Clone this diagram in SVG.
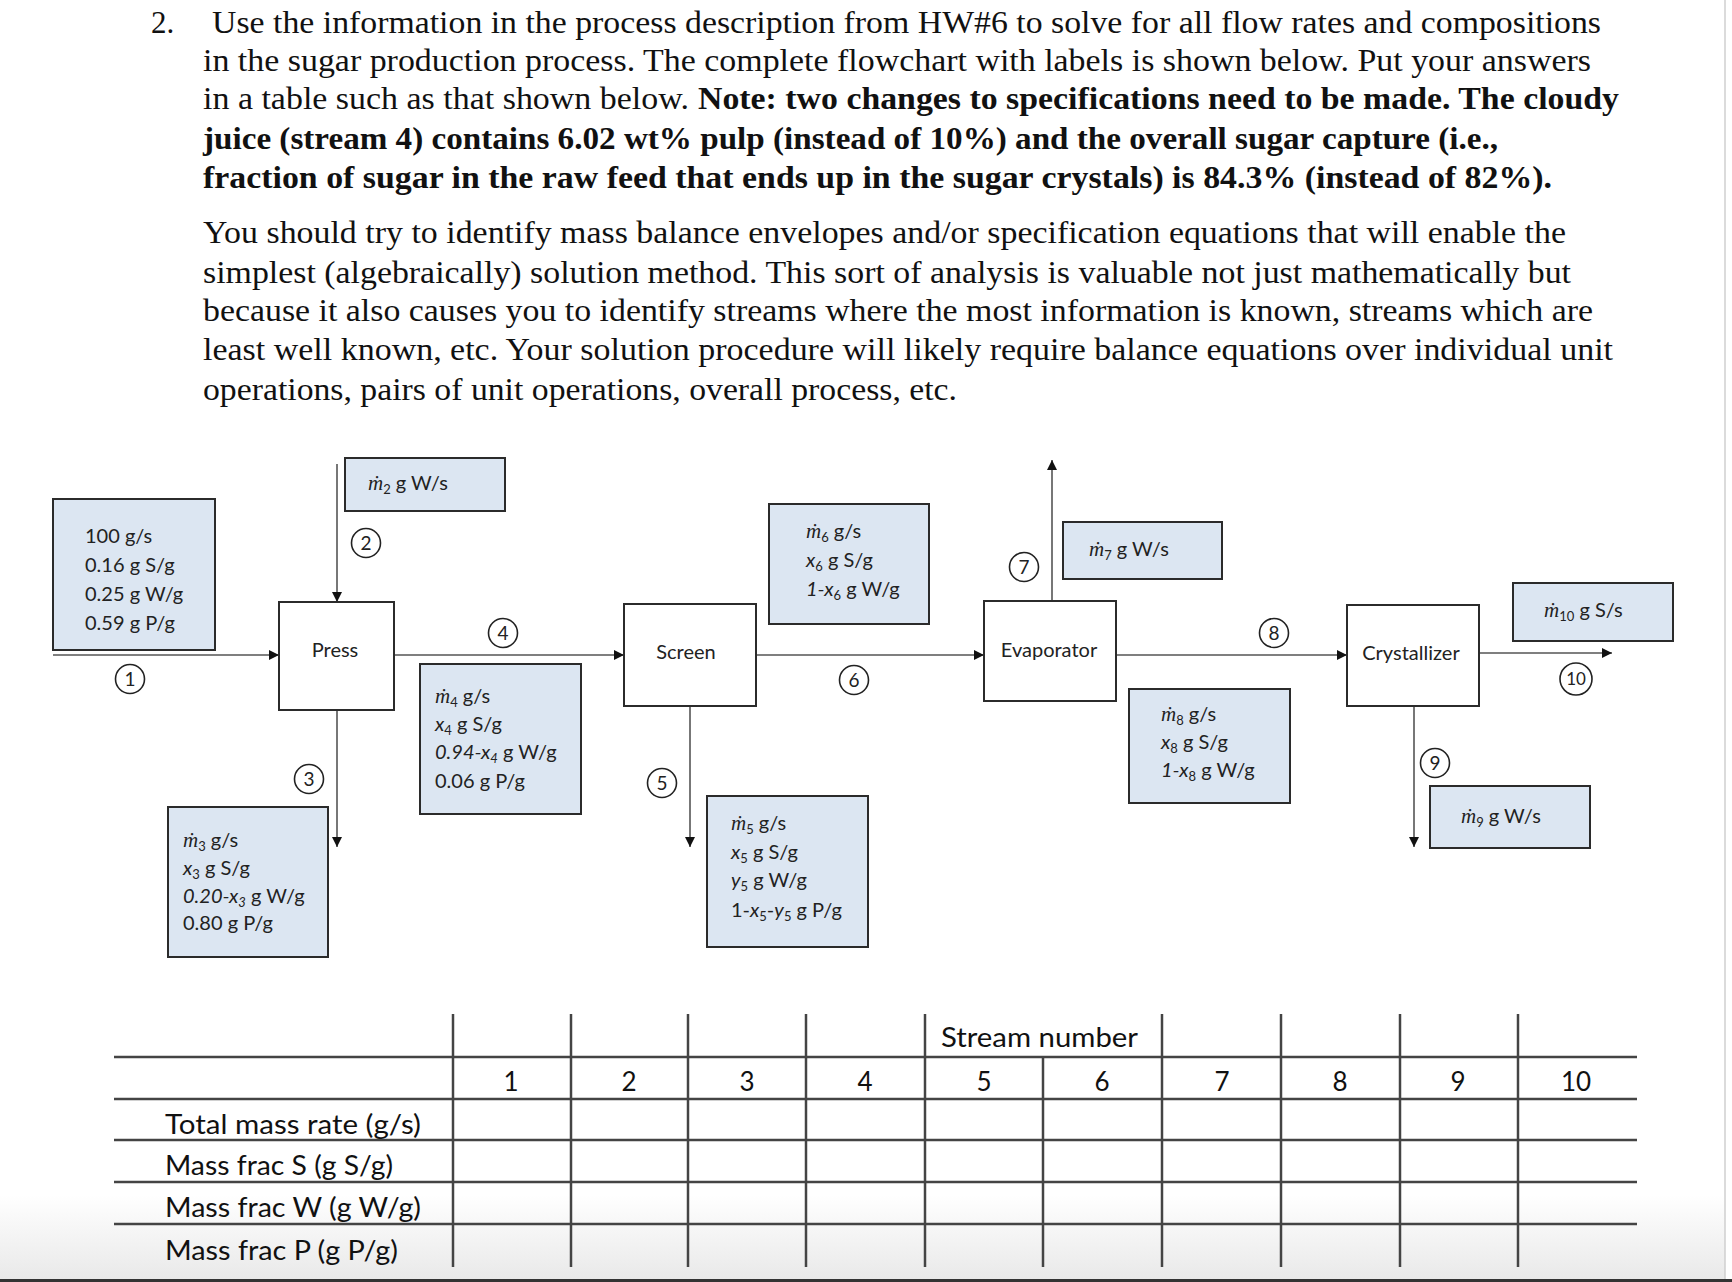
<svg xmlns="http://www.w3.org/2000/svg" width="1732" height="1282" viewBox="0 0 1732 1282">
<defs>
<marker id="ah" viewBox="0 0 10 10" refX="10" refY="5" markerWidth="10" markerHeight="10" markerUnits="userSpaceOnUse" orient="auto">
<path d="M0,0 L10,5 L0,10 z" fill="#111"/>
</marker>
<linearGradient id="bg" x1="0" y1="0" x2="0" y2="1">
<stop offset="0" stop-color="#ffffff"/>
<stop offset="1" stop-color="#e9e9e9"/>
</linearGradient>
<style>
.tx{font-family:"Liberation Serif",serif;font-size:31px;fill:#111}
.b{font-weight:bold}
.bx{fill:#dce6f2;stroke:#2b2b2b;stroke-width:2}
.unit{fill:#fff;stroke:#2b2b2b;stroke-width:2}
.lbl{font-family:Lato,"Liberation Sans",sans-serif;font-size:20px;fill:#222}
.m{font-family:"Liberation Serif",serif;font-style:italic;font-size:21px}
.sub{font-size:13px}
.it{font-style:italic}
.ctr{text-anchor:middle}
.conn{stroke:#555;stroke-width:1.6;fill:none}
.circ{fill:#fff;stroke:#222;stroke-width:1.6}
.num{font-family:Lato,"Liberation Sans",sans-serif;font-size:19px;fill:#222;text-anchor:middle}
.tl{stroke:#444;stroke-width:2.5}
.tt{font-family:Lato,"Liberation Sans",sans-serif;font-size:26px;fill:#111}
</style>
</defs>
<rect x="0" y="0" width="1732" height="1282" fill="#fff"/>
<rect x="0" y="1195" width="1725" height="84" fill="url(#bg)"/>
<line x1="1725" y1="0" x2="1725" y2="1279" stroke="#cfcfcf" stroke-width="1.5"/>
<rect x="0" y="1279" width="1732" height="3" fill="#333"/>

<g id="question">
<text class="tx" x="151" y="33">2.</text>
<text class="tx" x="212" y="33" textLength="1389" lengthAdjust="spacingAndGlyphs">Use the information in the process description from HW#6 to solve for all flow rates and compositions</text>
<text class="tx" x="203" y="71" textLength="1388" lengthAdjust="spacingAndGlyphs">in the sugar production process. The complete flowchart with labels is shown below. Put your answers</text>
<text class="tx" x="203" y="109" textLength="486" lengthAdjust="spacingAndGlyphs">in a table such as that shown below.</text>
<text class="tx b" x="698" y="109" textLength="921" lengthAdjust="spacingAndGlyphs">Note: two changes to specifications need to be made. The cloudy</text>
<text class="tx b" x="203" y="149" textLength="1295" lengthAdjust="spacingAndGlyphs">juice (stream 4) contains 6.02 wt% pulp (instead of 10%) and the overall sugar capture (i.e.,</text>
<text class="tx b" x="203" y="188" textLength="1349" lengthAdjust="spacingAndGlyphs">fraction of sugar in the raw feed that ends up in the sugar crystals) is 84.3% (instead of 82%).</text>
<text class="tx" x="203" y="243" textLength="1363" lengthAdjust="spacingAndGlyphs">You should try to identify mass balance envelopes and/or specification equations that will enable the</text>
<text class="tx" x="203" y="283" textLength="1368" lengthAdjust="spacingAndGlyphs">simplest (algebraically) solution method. This sort of analysis is valuable not just mathematically but</text>
<text class="tx" x="203" y="321" textLength="1390" lengthAdjust="spacingAndGlyphs">because it also causes you to identify streams where the most information is known, streams which are</text>
<text class="tx" x="203" y="360" textLength="1410" lengthAdjust="spacingAndGlyphs">least well known, etc. Your solution procedure will likely require balance equations over individual unit</text>
<text class="tx" x="203" y="400" textLength="754" lengthAdjust="spacingAndGlyphs">operations, pairs of unit operations, overall process, etc.</text>
</g>

<g id="connectors">
<line class="conn" x1="53" y1="655" x2="279" y2="655" marker-end="url(#ah)"/>
<line class="conn" x1="337" y1="464" x2="337" y2="602" marker-end="url(#ah)"/>
<line class="conn" x1="337" y1="710" x2="337" y2="847" marker-end="url(#ah)"/>
<line class="conn" x1="394" y1="655" x2="624" y2="655" marker-end="url(#ah)"/>
<line class="conn" x1="690" y1="706" x2="690" y2="847" marker-end="url(#ah)"/>
<line class="conn" x1="756" y1="655" x2="984" y2="655" marker-end="url(#ah)"/>
<line class="conn" x1="1052" y1="601" x2="1052" y2="460" marker-end="url(#ah)"/>
<line class="conn" x1="1116" y1="655" x2="1347" y2="655" marker-end="url(#ah)"/>
<line class="conn" x1="1414" y1="706" x2="1414" y2="847" marker-end="url(#ah)"/>
<line class="conn" x1="1479" y1="653" x2="1612" y2="653" marker-end="url(#ah)"/>
</g>

<g id="stream-labels">
<circle class="circ" cx="130" cy="679" r="14.5"/><text class="num" x="130" y="686">1</text>
<circle class="circ" cx="366" cy="543" r="14.5"/><text class="num" x="366" y="550">2</text>
<circle class="circ" cx="309" cy="779" r="14.5"/><text class="num" x="309" y="786">3</text>
<circle class="circ" cx="503" cy="633" r="14.5"/><text class="num" x="503" y="640">4</text>
<circle class="circ" cx="662" cy="783" r="14.5"/><text class="num" x="662" y="790">5</text>
<circle class="circ" cx="854" cy="680" r="14.5"/><text class="num" x="854" y="687">6</text>
<circle class="circ" cx="1024" cy="567" r="14.5"/><text class="num" x="1024" y="574">7</text>
<circle class="circ" cx="1274" cy="633" r="14.5"/><text class="num" x="1274" y="640">8</text>
<circle class="circ" cx="1435" cy="763" r="14.5"/><text class="num" x="1435" y="770">9</text>
<circle class="circ" cx="1576" cy="679" r="16"/><text class="num" x="1576" y="685" style="font-size:17px">10</text>
</g>

<g id="press"><rect class="unit" x="279" y="602" width="115" height="108"/><text class="lbl ctr" x="335" y="657">Press</text></g>
<g id="screen"><rect class="unit" x="624" y="604" width="132" height="102"/><text class="lbl ctr" x="686" y="659">Screen</text></g>
<g id="evaporator"><rect class="unit" x="984" y="601" width="132" height="100"/><text class="lbl ctr" x="1049" y="657">Evaporator</text></g>
<g id="crystallizer"><rect class="unit" x="1347" y="605" width="132" height="101"/><text class="lbl ctr" x="1411" y="660">Crystallizer</text></g>

<g id="box1"><rect class="bx" x="53" y="499" width="162" height="151"/>
<text class="lbl" x="85" y="543">100 g/s</text>
<text class="lbl" x="85" y="572">0.16 g S/g</text>
<text class="lbl" x="85" y="601">0.25 g W/g</text>
<text class="lbl" x="85" y="630">0.59 g P/g</text>
</g>
<g id="box2"><rect class="bx" x="345" y="458" width="160" height="53"/>
<text class="lbl" x="368" y="490"><tspan class="m">ṁ</tspan><tspan class="sub" dy="4">2</tspan><tspan dy="-4"> g W/s</tspan></text>
</g>
<g id="box3"><rect class="bx" x="168" y="807" width="160" height="150"/>
<text class="lbl" x="183" y="847"><tspan class="m">ṁ</tspan><tspan class="sub" dy="4">3</tspan><tspan dy="-4"> g/s</tspan></text>
<text class="lbl" x="183" y="875"><tspan class="it">x</tspan><tspan class="sub" dy="4">3</tspan><tspan dy="-4"> g S/g</tspan></text>
<text class="lbl" x="183" y="903"><tspan class="it">0.20-x</tspan><tspan class="sub it" dy="4">3</tspan><tspan dy="-4"> g W/g</tspan></text>
<text class="lbl" x="183" y="930">0.80 g P/g</text>
</g>
<g id="box4"><rect class="bx" x="420" y="664" width="161" height="150"/>
<text class="lbl" x="435" y="703"><tspan class="m">ṁ</tspan><tspan class="sub" dy="4">4</tspan><tspan dy="-4"> g/s</tspan></text>
<text class="lbl" x="435" y="731"><tspan class="it">x</tspan><tspan class="sub" dy="4">4</tspan><tspan dy="-4"> g S/g</tspan></text>
<text class="lbl" x="435" y="759"><tspan class="it">0.94-x</tspan><tspan class="sub it" dy="4">4</tspan><tspan dy="-4"> g W/g</tspan></text>
<text class="lbl" x="435" y="788">0.06 g P/g</text>
</g>
<g id="box5"><rect class="bx" x="707" y="796" width="161" height="151"/>
<text class="lbl" x="731" y="830"><tspan class="m">ṁ</tspan><tspan class="sub" dy="4">5</tspan><tspan dy="-4"> g/s</tspan></text>
<text class="lbl" x="731" y="859"><tspan class="it">x</tspan><tspan class="sub" dy="4">5</tspan><tspan dy="-4"> g S/g</tspan></text>
<text class="lbl" x="731" y="887"><tspan class="it">y</tspan><tspan class="sub" dy="4">5</tspan><tspan dy="-4"> g W/g</tspan></text>
<text class="lbl" x="731" y="917">1-<tspan class="it">x</tspan><tspan class="sub" dy="4">5</tspan><tspan dy="-4">-</tspan><tspan class="it">y</tspan><tspan class="sub" dy="4">5</tspan><tspan dy="-4"> g P/g</tspan></text>
</g>
<g id="box6"><rect class="bx" x="769" y="504" width="160" height="120"/>
<text class="lbl" x="806" y="538"><tspan class="m">ṁ</tspan><tspan class="sub" dy="4">6</tspan><tspan dy="-4"> g/s</tspan></text>
<text class="lbl" x="806" y="567"><tspan class="it">x</tspan><tspan class="sub" dy="4">6</tspan><tspan dy="-4"> g S/g</tspan></text>
<text class="lbl" x="806" y="596"><tspan class="it">1-x</tspan><tspan class="sub" dy="4">6</tspan><tspan dy="-4"> g W/g</tspan></text>
</g>
<g id="box7"><rect class="bx" x="1063" y="522" width="159" height="57"/>
<text class="lbl" x="1089" y="556"><tspan class="m">ṁ</tspan><tspan class="sub" dy="4">7</tspan><tspan dy="-4"> g W/s</tspan></text>
</g>
<g id="box8"><rect class="bx" x="1129" y="689" width="161" height="114"/>
<text class="lbl" x="1161" y="721"><tspan class="m">ṁ</tspan><tspan class="sub" dy="4">8</tspan><tspan dy="-4"> g/s</tspan></text>
<text class="lbl" x="1161" y="749"><tspan class="it">x</tspan><tspan class="sub" dy="4">8</tspan><tspan dy="-4"> g S/g</tspan></text>
<text class="lbl" x="1161" y="777"><tspan class="it">1-x</tspan><tspan class="sub" dy="4">8</tspan><tspan dy="-4"> g W/g</tspan></text>
</g>
<g id="box9"><rect class="bx" x="1430" y="786" width="160" height="62"/>
<text class="lbl" x="1461" y="823"><tspan class="m">ṁ</tspan><tspan class="sub" dy="4">9</tspan><tspan dy="-4"> g W/s</tspan></text>
</g>
<g id="box10"><rect class="bx" x="1513" y="583" width="160" height="58"/>
<text class="lbl" x="1544" y="617"><tspan class="m">ṁ</tspan><tspan class="sub" dy="4">10</tspan><tspan dy="-4"> g S/s</tspan></text>
</g>

<g id="table">
<line class="tl" x1="114" y1="1057" x2="1637" y2="1057"/>
<line class="tl" x1="114" y1="1099" x2="1637" y2="1099"/>
<line class="tl" x1="114" y1="1140" x2="1637" y2="1140"/>
<line class="tl" x1="114" y1="1182" x2="1637" y2="1182"/>
<line class="tl" x1="114" y1="1224" x2="1637" y2="1224"/>
<line class="tl" x1="453" y1="1014" x2="453" y2="1267"/>
<line class="tl" x1="571" y1="1014" x2="571" y2="1267"/>
<line class="tl" x1="688" y1="1014" x2="688" y2="1267"/>
<line class="tl" x1="806" y1="1014" x2="806" y2="1267"/>
<line class="tl" x1="925" y1="1014" x2="925" y2="1267"/>
<line class="tl" x1="1043" y1="1057" x2="1043" y2="1267"/>
<line class="tl" x1="1162" y1="1014" x2="1162" y2="1267"/>
<line class="tl" x1="1281" y1="1014" x2="1281" y2="1267"/>
<line class="tl" x1="1400" y1="1014" x2="1400" y2="1267"/>
<line class="tl" x1="1518" y1="1014" x2="1518" y2="1267"/>
<text class="tt" x="941" y="1047" textLength="197" lengthAdjust="spacingAndGlyphs">Stream number</text>
<text class="tt ctr" x="511" y="1091">1</text>
<text class="tt ctr" x="629" y="1091">2</text>
<text class="tt ctr" x="747" y="1091">3</text>
<text class="tt ctr" x="865" y="1091">4</text>
<text class="tt ctr" x="984" y="1091">5</text>
<text class="tt ctr" x="1102" y="1091">6</text>
<text class="tt ctr" x="1222" y="1091">7</text>
<text class="tt ctr" x="1340" y="1091">8</text>
<text class="tt ctr" x="1458" y="1091">9</text>
<text class="tt ctr" x="1576" y="1091">10</text>
<text class="tt" x="165" y="1134" textLength="256" lengthAdjust="spacingAndGlyphs">Total mass rate (g/s)</text>
<text class="tt" x="165" y="1175" textLength="228" lengthAdjust="spacingAndGlyphs">Mass frac S (g S/g)</text>
<text class="tt" x="165" y="1217" textLength="256" lengthAdjust="spacingAndGlyphs">Mass frac W (g W/g)</text>
<text class="tt" x="165" y="1260" textLength="233" lengthAdjust="spacingAndGlyphs">Mass frac P (g P/g)</text>
</g>
</svg>
